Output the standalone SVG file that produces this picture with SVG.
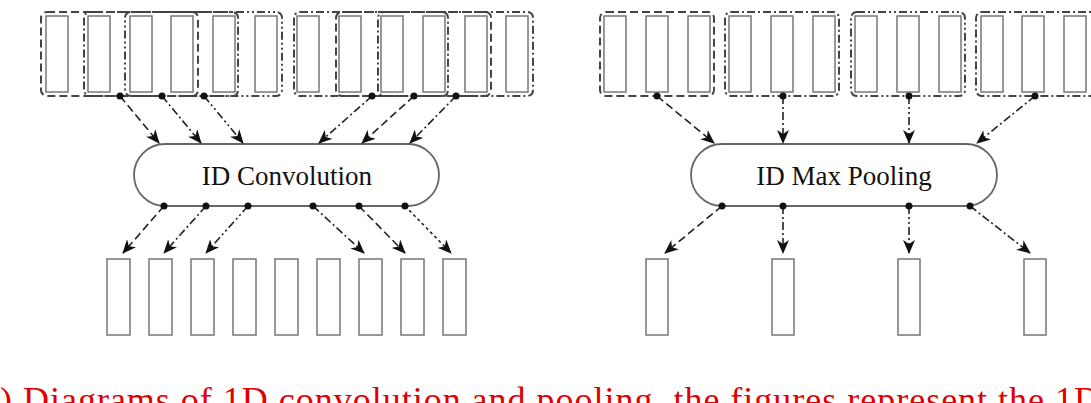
<svg xmlns="http://www.w3.org/2000/svg" width="1091" height="403" viewBox="0 0 1091 403">
<defs>
<marker id="ah" viewBox="0 0 14 12" refX="13" refY="6" markerWidth="14" markerHeight="12" markerUnits="userSpaceOnUse" orient="auto">
<path d="M0,0 L14,6 L0,12 L4,6 Z" fill="#111"/>
</marker>
<marker id="dot" viewBox="0 0 8 8" refX="4" refY="4" markerWidth="8" markerHeight="8" markerUnits="userSpaceOnUse">
<circle cx="4" cy="4" r="3.5" fill="#111"/>
</marker>
</defs>
<style>
.r{fill:#fff;stroke:#777;stroke-width:1.5}
.g{fill:none;stroke:#444;stroke-width:2}
.pill{fill:#fff;stroke:#666;stroke-width:1.8}
.lbl{font-family:"Liberation Serif",serif;font-size:27px;fill:#111;text-anchor:middle}
.c{fill:none;stroke:#222;stroke-width:1.6;marker-start:url(#dot);marker-end:url(#ah)}
.d1{stroke-dasharray:8 4}
.d2{stroke-dasharray:8 3 2 3}
.d3{stroke-dasharray:8 3 2 3 2 3}
.d4{stroke-dasharray:3 3}
.cap{font-family:"Liberation Serif",serif;font-size:36px;fill:#e00000}
</style>
<g id="conv-inputs">
<rect class="r" x="46" y="16" width="22" height="76"/><rect class="r" x="88" y="16" width="22" height="76"/><rect class="r" x="130" y="16" width="22" height="76"/><rect class="r" x="171" y="16" width="22" height="76"/><rect class="r" x="213" y="16" width="22" height="76"/><rect class="r" x="255" y="16" width="22" height="76"/><rect class="r" x="297" y="16" width="22" height="76"/><rect class="r" x="339" y="16" width="22" height="76"/><rect class="r" x="381" y="16" width="22" height="76"/><rect class="r" x="423" y="16" width="22" height="76"/><rect class="r" x="465" y="16" width="22" height="76"/><rect class="r" x="506" y="16" width="22" height="76"/>
<rect class="g d1" x="41" y="12" width="157" height="84" rx="6"/>
<rect class="g d2" x="84" y="12" width="154" height="84" rx="6"/>
<rect class="g d3" x="125" y="12" width="157" height="84" rx="6"/>
<rect class="g d2" x="294" y="12" width="154" height="84" rx="6"/>
<rect class="g d1" x="336" y="12" width="155" height="84" rx="6"/>
<rect class="g d2" x="378" y="12" width="155" height="84" rx="6"/>
</g>
<g id="conv">
<rect class="pill" x="134" y="144" width="305" height="62" rx="31"/>
<text class="lbl" x="287" y="185">ID Convolution</text>
</g>
<g id="conv-outputs">
<rect class="r" x="107" y="259" width="23" height="76"/><rect class="r" x="149" y="259" width="23" height="76"/><rect class="r" x="191" y="259" width="23" height="76"/><rect class="r" x="233" y="259" width="23" height="76"/><rect class="r" x="275" y="259" width="23" height="76"/><rect class="r" x="317" y="259" width="23" height="76"/><rect class="r" x="359" y="259" width="23" height="76"/><rect class="r" x="401" y="259" width="23" height="76"/><rect class="r" x="443" y="259" width="23" height="76"/>
</g>
<g id="pool-inputs">
<rect class="r" x="604" y="16" width="22" height="76"/><rect class="r" x="646" y="16" width="22" height="76"/><rect class="r" x="688" y="16" width="22" height="76"/><rect class="r" x="729" y="16" width="22" height="76"/><rect class="r" x="771" y="16" width="22" height="76"/><rect class="r" x="813" y="16" width="22" height="76"/><rect class="r" x="855" y="16" width="22" height="76"/><rect class="r" x="897" y="16" width="22" height="76"/><rect class="r" x="939" y="16" width="22" height="76"/><rect class="r" x="981" y="16" width="22" height="76"/><rect class="r" x="1022" y="16" width="22" height="76"/><rect class="r" x="1064" y="16" width="22" height="76"/>
<rect class="g d1" x="600" y="12" width="114" height="84" rx="6"/>
<rect class="g d2" x="725" y="12" width="114" height="84" rx="6"/>
<rect class="g d3" x="851" y="12" width="114" height="84" rx="6"/>
<rect class="g d2" x="976" y="12" width="120" height="84" rx="6"/>
</g>
<g id="pool">
<rect class="pill" x="691" y="144" width="306" height="62" rx="31"/>
<text class="lbl" x="844" y="185">ID Max Pooling</text>
</g>
<g id="pool-outputs">
<rect class="r" x="646" y="259" width="22" height="76"/><rect class="r" x="772" y="259" width="22" height="76"/><rect class="r" x="898" y="259" width="22" height="76"/><rect class="r" x="1024" y="259" width="22" height="76"/>
</g>
<g id="connectors">
<line class="c d1" x1="120" y1="96" x2="159" y2="143"/>
<line class="c d2" x1="162" y1="96" x2="201" y2="143"/>
<line class="c d3" x1="204" y1="96" x2="243" y2="143"/>
<line class="c d2" x1="372" y1="96" x2="319" y2="143"/>
<line class="c d1" x1="414" y1="96" x2="362" y2="143"/>
<line class="c d2" x1="456" y1="96" x2="410" y2="143"/>
<line class="c d1" x1="164" y1="206" x2="123" y2="253"/>
<line class="c d2" x1="206" y1="206" x2="164" y2="253"/>
<line class="c d3" x1="248" y1="206" x2="206" y2="253"/>
<line class="c d2" x1="313" y1="206" x2="364" y2="253"/>
<line class="c d1" x1="359" y1="206" x2="405" y2="253"/>
<line class="c d4" x1="405" y1="206" x2="451" y2="253"/>
<line class="c d1" x1="657" y1="96" x2="714" y2="143"/>
<line class="c d2" x1="783" y1="96" x2="783" y2="143"/>
<line class="c d3" x1="909" y1="96" x2="909" y2="143"/>
<line class="c d2" x1="1035" y1="96" x2="977" y2="143"/>
<line class="c d1" x1="722" y1="206" x2="665" y2="253"/>
<line class="c d2" x1="783" y1="206" x2="783" y2="253"/>
<line class="c d3" x1="909" y1="206" x2="909" y2="253"/>
<line class="c d2" x1="970" y1="206" x2="1030" y2="253"/>
</g>
<text class="cap" x="0" y="412" textLength="1100" lengthAdjust="spacing">) Diagrams of 1D convolution and pooling, the figures represent the 1D</text>
</svg>
